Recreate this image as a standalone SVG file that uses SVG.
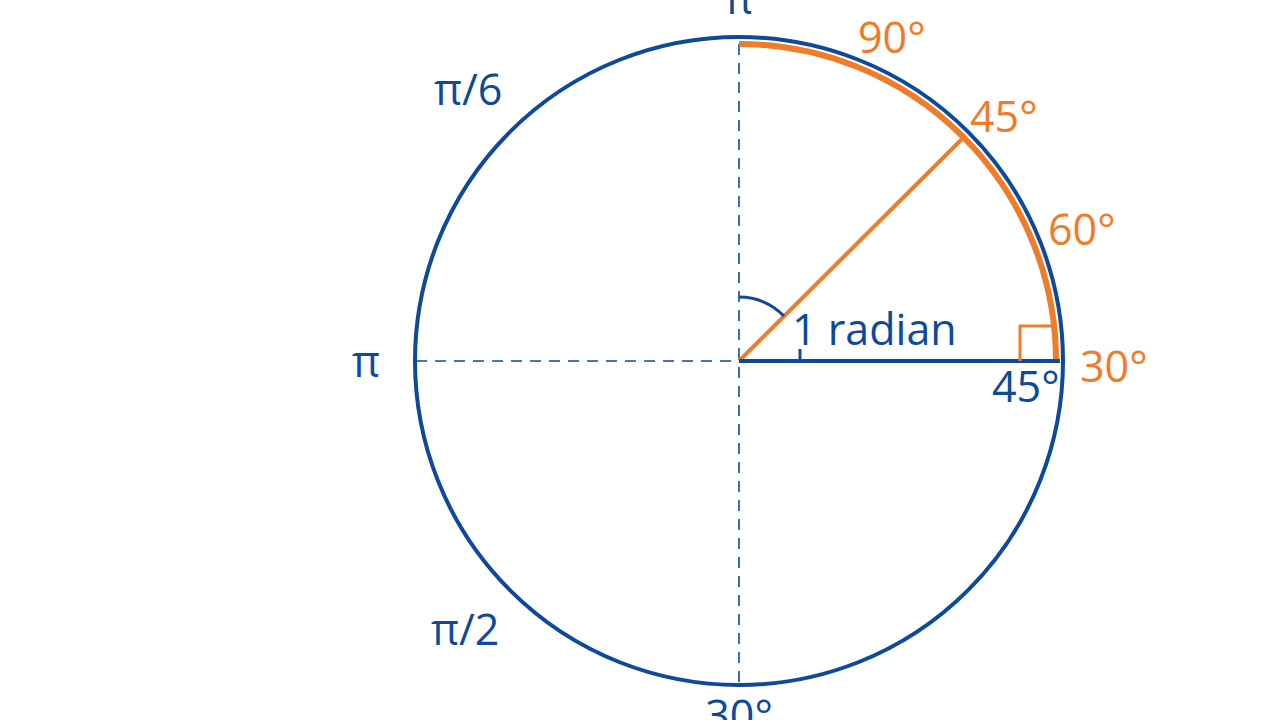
<svg xmlns="http://www.w3.org/2000/svg" width="1280" height="720" viewBox="0 0 1280 720">
<style>
.blue{fill:none;stroke:#0d4a9a}
.orange{fill:none;stroke:#ef7c28}
.dash{fill:none;stroke:#0d4a9a;stroke-width:1.6;stroke-dasharray:11 8}
text{font-family:"Open Sans","Liberation Sans",sans-serif;font-size:43px;font-weight:500}
.tb{fill:#0d4a9a}
.to{fill:#ef7c28}
</style>
<rect width="1280" height="720" fill="#ffffff"/>
<g id="axes">
<line class="dash" x1="739" y1="44" x2="739" y2="686"/>
<line class="dash" x1="416" y1="361" x2="739" y2="361"/>
</g>
<g id="circle">
<circle class="blue" cx="739" cy="361" r="324" stroke-width="4"/>
</g>
<g id="arc-orange">
<path class="orange" d="M739 44 A317 317 0 0 1 1056 361" stroke-width="6"/>
</g>
<g id="connectors">
<line class="orange" x1="739" y1="361" x2="963" y2="138" stroke-width="4"/>
<line class="blue" x1="739" y1="361" x2="1060" y2="361" stroke-width="4"/>
<line class="blue" x1="800" y1="349" x2="800" y2="361" stroke-width="3"/>
<path class="blue" d="M739 297 A64 64 0 0 1 784 316" stroke-width="3"/>
<path class="orange" d="M1020 361 V326 H1053" stroke-width="3"/>
</g>
<g id="labels">
<text class="tb" x="739" y="14" text-anchor="middle">π</text>
<text class="tb" x="434" y="105">π/6</text>
<text class="tb" x="352" y="377">π</text>
<text class="tb" x="431" y="645">π/2</text>
<text class="tb" x="739" y="731" text-anchor="middle">30°</text>
<text class="tb" x="792" y="345">1 radian</text>
<text class="tb" x="992" y="402">45°</text>
<text class="to" x="858" y="53">90°</text>
<text class="to" x="970" y="132">45°</text>
<text class="to" x="1048" y="245">60°</text>
<text class="to" x="1080" y="382">30°</text>
</g>
</svg>
